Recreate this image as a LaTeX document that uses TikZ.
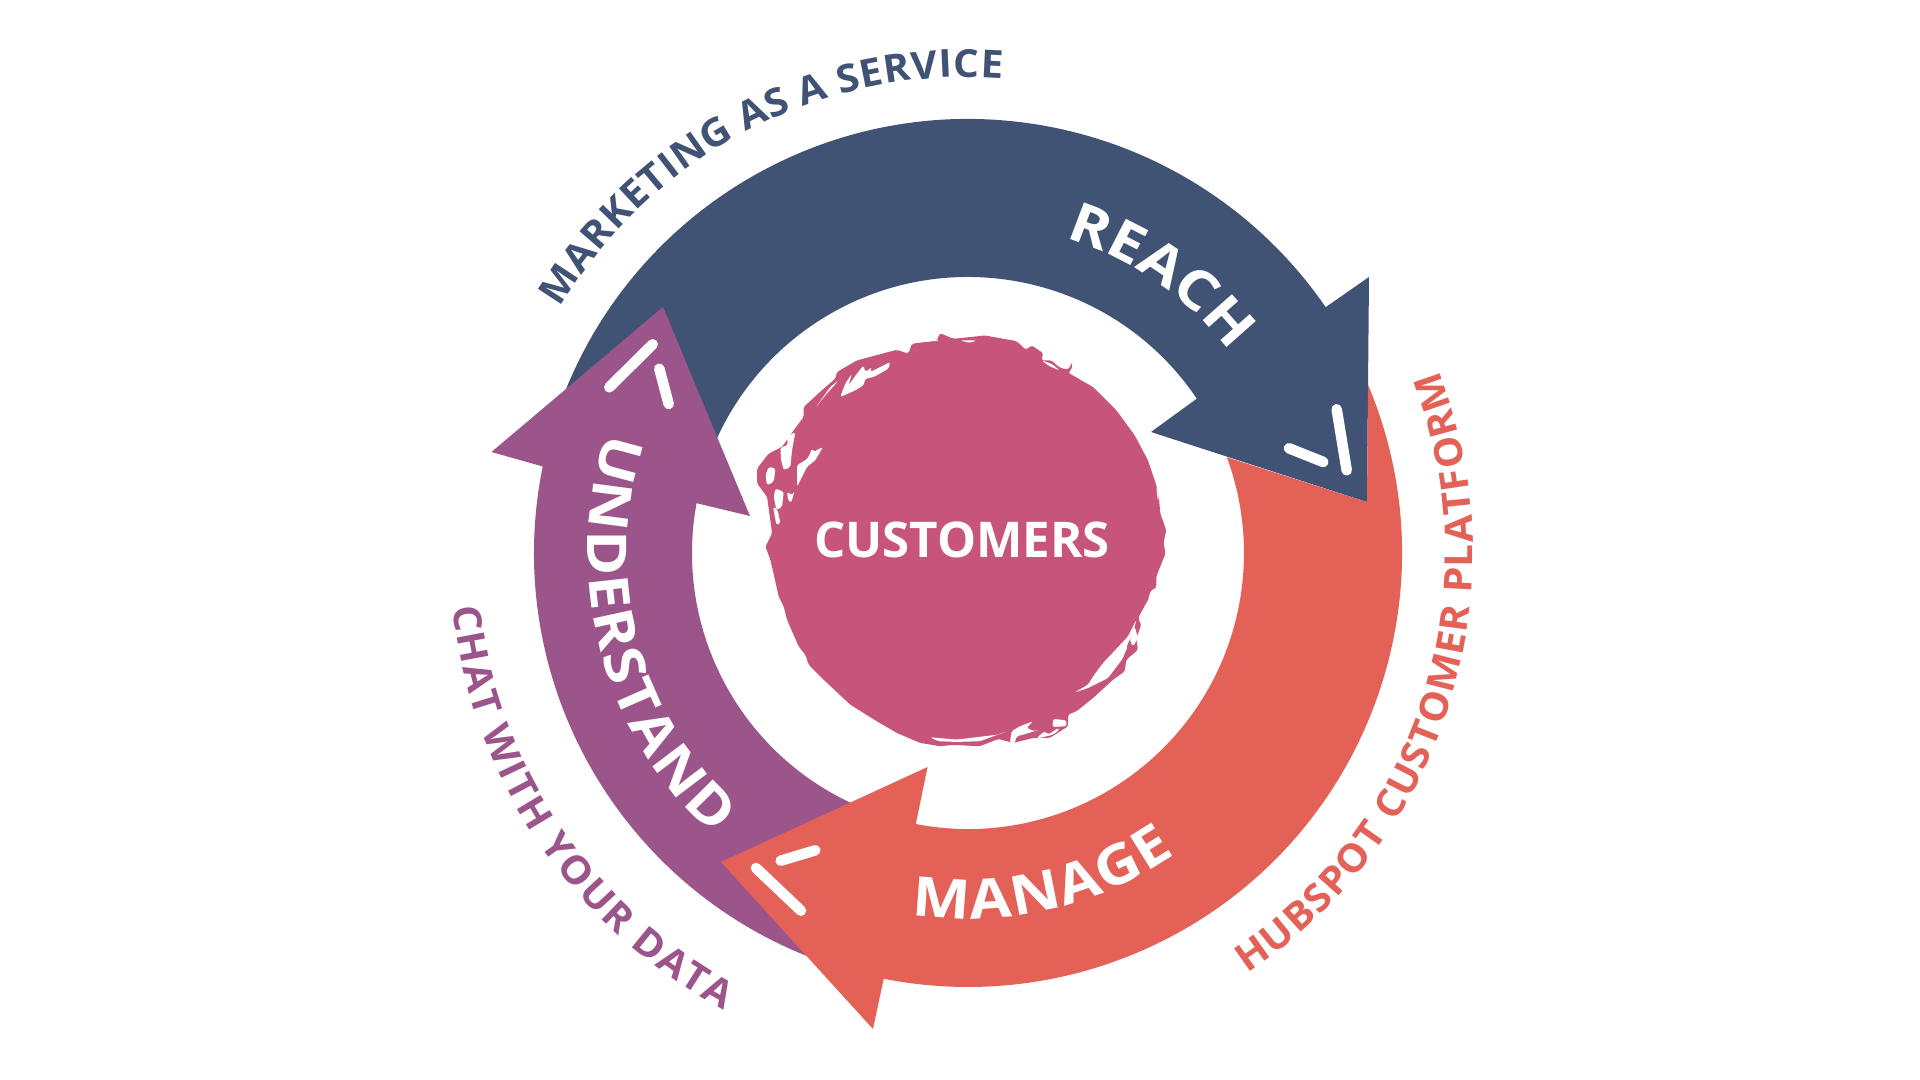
\documentclass[tikz,border=0pt]{standalone}
\usepackage{fontspec}
\setmainfont{Open Sans}
\newfontfamily\bandface[FakeStretch=1.12]{Open Sans}
\newfontfamily\rimface[FakeStretch=1.05]{Open Sans}
\usetikzlibrary{decorations.text}

\definecolor{reachblue}{RGB}{65,83,117}
\definecolor{understandpurple}{RGB}{155,85,138}
\definecolor{manageorange}{RGB}{228,97,88}
\definecolor{customerspink}{RGB}{199,85,123}

\begin{document}
\begin{tikzpicture}[
    bar/.style={white,line width=3pt,line cap=round},
    curved/.style={decorate,decoration={text along path,text align={fit to path},text={#1}}}]
    \def\Rout{4.34} % outer radius of the ring
    \def\Rin{2.76} % inner radius of the ring
    \def\bandfont{\bandface\fontsize{15.6}{15.6}\selectfont\bfseries\color{white}}
    \def\rimfont#1{\rimface\fontsize{11}{11}\selectfont\bfseries\color{#1}}
    \useasboundingbox (-9.68,-5.27) rectangle (9.52,5.53);
    % Blue arrow
    \fill[reachblue] (168.5:\Rout) arc[start angle=168.5,end angle=34.5,radius=\Rout]
        -- (4.01,2.76) -- (3.99,.51) -- (1.83,1.21) -- (34:\Rin)
        arc[start angle=34,end angle=169.6,radius=\Rin] -- cycle;
    % Purple arrow, its tail runs under the orange head
    \fill[understandpurple] (168.5:\Rout) arc[start angle=168.5,end angle=250,radius=\Rout]
        -- (247:\Rin) arc[start angle=247,end angle=169.6,radius=\Rin]
        -- (-2.18,.37) -- (-3.05,2.46) -- (-4.765,1.01) -- cycle;
    % Orange arrow, its tail stops at the base of the blue head
    \fill[manageorange] (22.8:\Rout) arc[start angle=22.8,end angle=-101.2,radius=\Rout]
        -- (-.95,-4.76) -- (-2.47,-3.09) -- (-.404,-2.14) -- (-100.9:\Rin)
        arc[start angle=-100.9,end angle=20.3,radius=\Rin] -- (3.99,.51) -- cycle;
    % Small bars on the arrow heads
    \draw[bar] (3.687,1.437) -- (3.787,.827);
    \draw[bar] (3.21,1.047) -- (3.553,.91);
    \draw[bar] (-3.153,2.087) -- (-3.587,1.657);
    \draw[bar] (-3.087,1.843) -- (-2.993,1.49);
    \draw[bar] (-1.527,-2.973) -- (-1.873,-3.077);
    \draw[bar] (-2.12,-3.15) -- (-1.67,-3.577);
    % Rough disc in the middle
    \begin{scope}[x=.003333cm,y=-.003333cm,shift={(-684,-729)},rounded corners=.5pt]
        \fill[customerspink] (735,75) -- (830,92) -- (858,118) -- (875,105) -- (910,128) -- (905,150)
            -- (935,150) -- (960,172) -- (985,178) -- (998,155) -- (995,178) -- (985,187) -- (1060,230)
            -- (1130,300) -- (1185,375) -- (1225,450) -- (1250,525) -- (1258,560) -- (1262,610)
            -- (1280,660) -- (1272,700) -- (1278,730) -- (1262,770) -- (1250,800) -- (1250,830)
            -- (1225,870) -- (1195,925) -- (1205,945) -- (1190,985) -- (1195,1020) -- (1160,1050)
            -- (1155,1085) -- (1120,1110) -- (1060,1165) -- (1010,1205) -- (985,1215) -- (985,1250)
            -- (930,1285) -- (880,1285) -- (820,1300) -- (775,1288) -- (720,1310) -- (640,1306) -- (600,1310)
            -- (540,1300) -- (470,1270) -- (410,1235) -- (330,1185) -- (250,1110) -- (205,1065) -- (195,1035)
            -- (175,1010) -- (140,930) -- (130,890) -- (115,860) -- (90,750) -- (75,710) -- (95,670)
            -- (80,560) -- (50,520) -- (50,475) -- (85,430) -- (125,410) -- (160,360) -- (190,320)
            -- (190,290) -- (250,235) -- (285,205) -- (290,185) -- (350,150) -- (470,118) -- (505,130)
            -- (515,100) -- (590,90) -- (600,68) -- (640,85) -- cycle;
        % white flecks, upper left
        \fill[white] (300,260) -- (315,220) -- (335,190) -- (325,225) -- (350,190) -- (370,165) -- (375,185)
            -- (395,170) -- (390,185) -- (450,155) -- (445,175) -- (400,200) -- (375,205) -- (370,225) -- (345,240) -- cycle;
        \fill[white] (225,293) -- (255,255) -- (295,210) -- (270,230) -- cycle;
        \fill[white] (170,530) -- (170,465) -- (195,450) -- (205,440) -- (215,415) -- (220,425)
            -- (248,410) -- (225,450) -- (200,470) -- cycle;
        \fill[white] (140,545) -- (155,555) -- (163,543) -- (152,578) -- (143,570) -- cycle;
        \fill[white] (130,480) -- (122,450) -- (120,412) -- (142,405) -- (140,380) -- (165,365)
            -- (155,420) -- (150,470) -- cycle;
        \fill[white] (85,470) -- (105,475) -- (100,515) -- (80,525) -- (75,495) -- cycle;
        \fill[white] (105,535) -- (130,545) -- (125,590) -- (108,600) -- (100,560) -- cycle;
        \fill[white] (98,590) -- (112,600) -- (120,640) -- (108,645) -- cycle;
        % white flecks, lower right
        \fill[white] (1005,1148) -- (1045,1135) -- (1105,1105) -- (1150,1045) -- (1165,1000) -- (1180,970)
            -- (1190,930) -- (1165,980) -- (1090,1060) -- (1060,1100) -- (1045,1125) -- cycle;
        \fill[white] (1130,1050) -- (1150,1040) -- (1165,1010) -- (1150,1005) -- cycle;
        \fill[white] (1185,950) -- (1195,985) -- (1180,1010) -- (1170,990) -- cycle;
        \fill[white] (940,1228) -- (980,1232) -- (980,1250) -- (938,1252) -- cycle;
        % white flecks, bottom
        \fill[white] (570,1283) -- (650,1290) -- (775,1275) -- (800,1265) -- (720,1295) -- (650,1297) -- (595,1295) -- cycle;
        \fill[white] (815,1265) -- (840,1250) -- (880,1235) -- (860,1255) -- (885,1265) -- (900,1260)
            -- (850,1275) -- (830,1280) -- (825,1300) -- (810,1300) -- cycle;
        \fill[white] (890,1285) -- (915,1265) -- (925,1275) -- (955,1255) -- (960,1260) -- (940,1275) -- (900,1285) -- cycle;
        % white flecks, top and right
        \fill[white] (660,90) -- (710,90) -- (690,97) -- cycle;
        \fill[white] (550,95) -- (580,85) -- (600,90) -- cycle;
        \fill[white] (905,150) -- (935,160) -- (960,180) -- (930,168) -- cycle;
        \fill[white] (1235,840) -- (1250,835) -- (1245,890) -- (1225,870) -- cycle;
        \fill[white] (1250,530) -- (1258,555) -- (1255,575) -- cycle;
    \end{scope}
    \node[text=white,font=\fontsize{14}{14}\selectfont\bfseries] (customers) at (-.06,.13) {CUSTOMERS};
    % Words inside the arrows
    \path[curved={|\bandfont|REACH}] (72.8:3.30) arc[start angle=72.8,end angle=38.5,radius=3.30];
    \path[curved={|\bandfont|MANAGE}] (261.2:3.66) arc[start angle=261.2,end angle=304.6,radius=3.66];
    \path[curved={|\bandfont|UNDERSTAND}] (161.5:3.80) arc[start angle=161.5,end angle=228,radius=3.80];
    % Words round the ring
    \path[curved={|\rimfont{reachblue}|MARKETING AS A SERVICE}] (149:4.76) arc[start angle=149,end angle=85.8,radius=4.76];
    \path[curved={|\rimfont{understandpurple}|CHAT WITH YOUR DATA}] (186:5.18) arc[start angle=186,end angle=241.9,radius=5.18];
    \path[curved={|\rimfont{manageorange}|HUBSPOT CUSTOMER PLATFORM}] (303.6:5.05) arc[start angle=303.6,end angle=381.2,radius=5.05];
\end{tikzpicture}
\end{document}
